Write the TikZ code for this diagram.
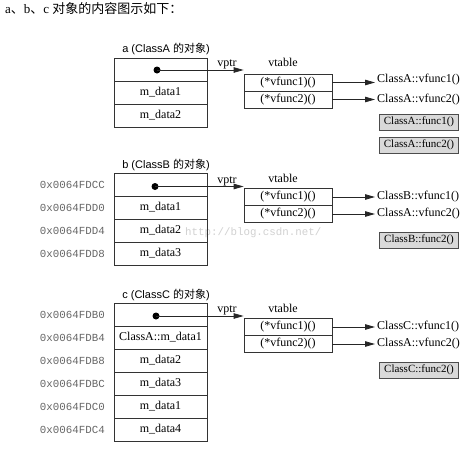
\documentclass[tikz,border=0pt]{standalone}
\usepackage{fontspec}
\setmainfont{Liberation Serif}
\setmonofont{Liberation Mono}
\newfontfamily\lsans{Liberation Sans}
\newfontfamily\cjk{Noto Sans CJK SC}
\usetikzlibrary{arrows.meta}
\tikzset{
 cell/.style={draw=black!80, line width=0.8pt, minimum width=93pt, minimum height=23pt, inner sep=0pt, font=\fontsize{12}{14}\selectfont},
 vcell/.style={draw=black!80, line width=0.8pt, minimum width=88pt, minimum height=17pt, inner sep=0pt, font=\fontsize{12}{14}\selectfont},
 funcbox/.style={draw=black!70, fill=gray!30, line width=0.8pt, minimum width=79pt, minimum height=16pt, inner sep=0pt, font=\fontsize{11}{13}\selectfont},
 addr/.style={anchor=east, text=black!60, font=\ttfamily\fontsize{10.8}{12}\selectfont, inner sep=0pt},
 lbl/.style={font=\fontsize{12}{14}\selectfont, inner sep=0pt},
 objlbl/.style={font=\lsans\fontsize{11}{13}\selectfont, inner sep=0pt},
 target/.style={anchor=west, font=\fontsize{12}{14}\selectfont, inner sep=0pt},
 dot/.style={circle, fill=black, minimum size=7pt, inner sep=0pt},
 arr/.style={-{Triangle[length=10pt,width=5.5pt]}, line width=0.8pt, black!85},
 wmark/.style={anchor=west, text=black!18, font=\ttfamily\fontsize{10.8}{12}\selectfont, inner sep=0pt},
}
\begin{document}
\begin{tikzpicture}[x=1pt,y=-1pt]
\useasboundingbox (0,0) rectangle (474,455);
\fill[white] (0,0) rectangle (474,455);

% header
\node[anchor=west, inner sep=0pt, font=\fontsize{13}{15}\selectfont] (hdr) at (5,9) {a{\cjk 、}b{\cjk 、}c {\cjk 对象的内容图示如下：}};

% watermark
\node[wmark] (wm) at (185,233) {http://blog.csdn.net/};

% ---------- A ----------
\node[objlbl] (alab) at (166,49) {a (ClassA {\cjk 的对象})};
\node[cell] (a0) at (160.5,69.5) {};
\node[cell] (a1) at (160.5,92.5) {m\_data1};
\node[cell] (a2) at (160.5,115.5) {m\_data2};
\node[dot] (adot) at (157,70) {};
\node[lbl] (avt) at (283,62) {vtable};
\node[vcell] (av1) at (288,82.5) {(*vfunc1)()};
\node[vcell] (av2) at (288,99.5) {(*vfunc2)()};
\draw[arr] (adot.center) -- (adot.center -| av1.west) coordinate (aend);
\node[lbl, anchor=base] (avp) at (227,66.5) {vptr};
\node[target] (at1) at (377,80) {ClassA::vfunc1()};
\node[target] (at2) at (377,99.5) {ClassA::vfunc2()};
\draw[arr, shorten >=2pt] (av1.east) -- (av1.east -| at1.west);
\draw[arr, shorten >=2pt] (av2.east) -- (av2.east -| at2.west);
\node[funcbox] (af1) at (419,122) {ClassA::func1()};
\node[funcbox] (af2) at (419,145) {ClassA::func2()};

% ---------- B ----------
\node[objlbl] (blab) at (166,165) {b (ClassB {\cjk 的对象})};
\node[cell] (b0) at (160.5,184.5) {};
\node[cell] (b1) at (160.5,207.5) {m\_data1};
\node[cell] (b2) at (160.5,230.5) {m\_data2};
\node[cell] (b3) at (160.5,253.5) {m\_data3};
\node[addr] (ba0) at (105,184.5) {0x0064FDCC};
\node[addr] (ba1) at (105,207.5) {0x0064FDD0};
\node[addr] (ba2) at (105,230.5) {0x0064FDD4};
\node[addr] (ba3) at (105,253.5) {0x0064FDD8};
\node[dot] (bdot) at (155,186.5) {};
\node[lbl] (bvt) at (283,178) {vtable};
\node[vcell] (bv1) at (288,197) {(*vfunc1)()};
\node[vcell] (bv2) at (288,214) {(*vfunc2)()};
\draw[arr] (bdot.center) -- (bdot.center -| bv1.west) coordinate (bend);
\node[lbl, anchor=base] (bvp) at (227,183) {vptr};
\node[target] (bt1) at (377,197) {ClassB::vfunc1()};
\node[target] (bt2) at (377,214) {ClassA::vfunc2()};
\draw[arr, shorten >=2pt] (bv1.east) -- (bv1.east -| bt1.west);
\draw[arr, shorten >=2pt] (bv2.east) -- (bv2.east -| bt2.west);
\node[funcbox] (bf2) at (419,240) {ClassB::func2()};

% ---------- C ----------
\node[objlbl] (clab) at (166,295) {c (ClassC {\cjk 的对象})};
\node[cell] (c0) at (160.5,314.5) {};
\node[cell] (c1) at (160.5,337.5) {ClassA::m\_data1};
\node[cell] (c2) at (160.5,360.5) {m\_data2};
\node[cell] (c3) at (160.5,383.5) {m\_data3};
\node[cell] (c4) at (160.5,406.5) {m\_data1};
\node[cell] (c5) at (160.5,429.5) {m\_data4};
\node[addr] (ca0) at (105,314.5) {0x0064FDB0};
\node[addr] (ca1) at (105,337.5) {0x0064FDB4};
\node[addr] (ca2) at (105,360.5) {0x0064FDB8};
\node[addr] (ca3) at (105,383.5) {0x0064FDBC};
\node[addr] (ca4) at (105,406.5) {0x0064FDC0};
\node[addr] (ca5) at (105,429.5) {0x0064FDC4};
\node[dot] (cdot) at (156,316) {};
\node[lbl] (cvt) at (283,308) {vtable};
\node[vcell] (cv1) at (288,327) {(*vfunc1)()};
\node[vcell] (cv2) at (288,344) {(*vfunc2)()};
\draw[arr] (cdot.center) -- (cdot.center -| cv1.west) coordinate (cend);
\node[lbl, anchor=base] (cvp) at (227,312.5) {vptr};
\node[target] (ct1) at (377,327) {ClassC::vfunc1()};
\node[target] (ct2) at (377,344) {ClassA::vfunc2()};
\draw[arr, shorten >=2pt] (cv1.east) -- (cv1.east -| ct1.west);
\draw[arr, shorten >=2pt] (cv2.east) -- (cv2.east -| ct2.west);
\node[funcbox] (cf2) at (419,370) {ClassC::func2()};
\end{tikzpicture}
\end{document}
